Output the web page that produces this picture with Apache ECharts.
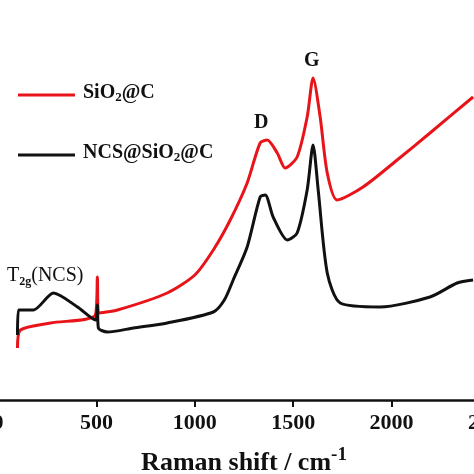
<!DOCTYPE html>
<html>
<head>
<meta charset="utf-8">
<script src="https://cdn.jsdelivr.net/npm/echarts@6/dist/echarts.min.js"></script>
<style>html,body{margin:0;padding:0;background:#fff}#c{width:474px;height:474px}</style>
</head>
<body>
<div id="c"></div>
<script>
// Raman shift (cm-1) / intensity (a.u.) pairs
const redShift = [99, 114, 267, 495, 505, 510, 607, 860, 1000, 1094, 1180, 1266, 1332, 1368, 1419, 1459, 1520, 1571, 1601, 1637, 1673, 1723, 1855, 2028, 2195, 2414]
const redInt = [52, 70, 77, 85, 123, 87, 90, 107, 125, 150, 180, 217, 257, 260, 247, 232, 243, 283, 322, 283, 227, 200, 213, 240, 267, 303]
const blackShift = [99, 104, 180, 282, 404, 495, 505, 510, 556, 688, 860, 1094, 1150, 1195, 1266, 1332, 1358, 1398, 1470, 1520, 1571, 1601, 1627, 1673, 1739, 1942, 2195, 2333, 2414]
const blackInt = [65, 90, 90, 107, 93, 80, 95, 72, 68, 72, 77, 88, 100, 120, 153, 203, 205, 183, 160, 167, 210, 255, 210, 127, 97, 93, 103, 117, 120]
const xTicks = [0, 500, 1000, 1500, 2000, 2500]

const font = '"Liberation Serif", "DejaVu Serif", serif'
const zip = (a, b) => a.map((v, i) => [v, b[i]])

const chart = echarts.init(document.getElementById('c'))
chart.setOption({
  animation: false,
  grid: { left: -2, right: -16, top: 0, bottom: 74, containLabel: false, outerBoundsMode: 'none' },
  xAxis: {
    type: 'value', min: xTicks[0], max: xTicks[xTicks.length - 1], interval: 500,
    name: 'Raman shift / cm{s|-1}', nameLocation: 'middle', nameGap: 46,
    nameTextStyle: { fontFamily: font, fontWeight: 'bold', fontSize: 26, color: '#111',
      rich: { s: { fontFamily: font, fontWeight: 'bold', fontSize: 19, verticalAlign: 'top', padding: [0, 0, 16, 0] } } },
    axisLine: { lineStyle: { color: '#111', width: 2.5 } },
    axisTick: { inside: false, length: 7, lineStyle: { color: '#111', width: 2 } },
    axisLabel: { fontFamily: font, fontWeight: 'bold', fontSize: 22, color: '#111', margin: 12, formatter: v => String(v) },
    splitLine: { show: false }
  },
  yAxis: { type: 'value', min: 0, max: 400, show: false },
  series: [
    { type: 'line', data: zip(redShift, redInt), showSymbol: false, smooth: 0.25, lineStyle: { color: '#e8141a', width: 3 } },
    { type: 'line', data: zip(blackShift, blackInt), showSymbol: false, smooth: 0.25, lineStyle: { color: '#111', width: 3 } }
  ],
  graphic: [
    { type: 'line', shape: { x1: 18, y1: 95, x2: 75, y2: 95 }, style: { stroke: '#e8141a', lineWidth: 3 } },
    { type: 'line', shape: { x1: 18, y1: 155, x2: 75, y2: 155 }, style: { stroke: '#111', lineWidth: 3 } },
    { type: 'text', left: 83, top: 83, style: { text: 'SiO{s|2}@C', fontFamily: font, fontWeight: 'bold', fontSize: 20, fill: '#111',
      rich: { s: { fontFamily: font, fontWeight: 'bold', fontSize: 13, padding: [10, 0, 0, 0] } } } },
    { type: 'text', left: 83, top: 143, style: { text: 'NCS@SiO{s|2}@C', fontFamily: font, fontWeight: 'bold', fontSize: 20, fill: '#111',
      rich: { s: { fontFamily: font, fontWeight: 'bold', fontSize: 13, padding: [10, 0, 0, 0] } } } },
    { type: 'text', left: 254, top: 113, style: { text: 'D', fontFamily: font, fontWeight: 'bold', fontSize: 20, fill: '#111' } },
    { type: 'text', left: 304, top: 51, style: { text: 'G', fontFamily: font, fontWeight: 'bold', fontSize: 20, fill: '#111' } },
    { type: 'text', left: 7, top: 266, style: { text: 'T{s|2g}(NCS)', fontFamily: font, fontSize: 20, fill: '#111',
      rich: { s: { fontFamily: font, fontWeight: 'bold', fontSize: 12, padding: [12, 0, 0, 0] } } } }
  ]
})
</script>
</body>
</html>
